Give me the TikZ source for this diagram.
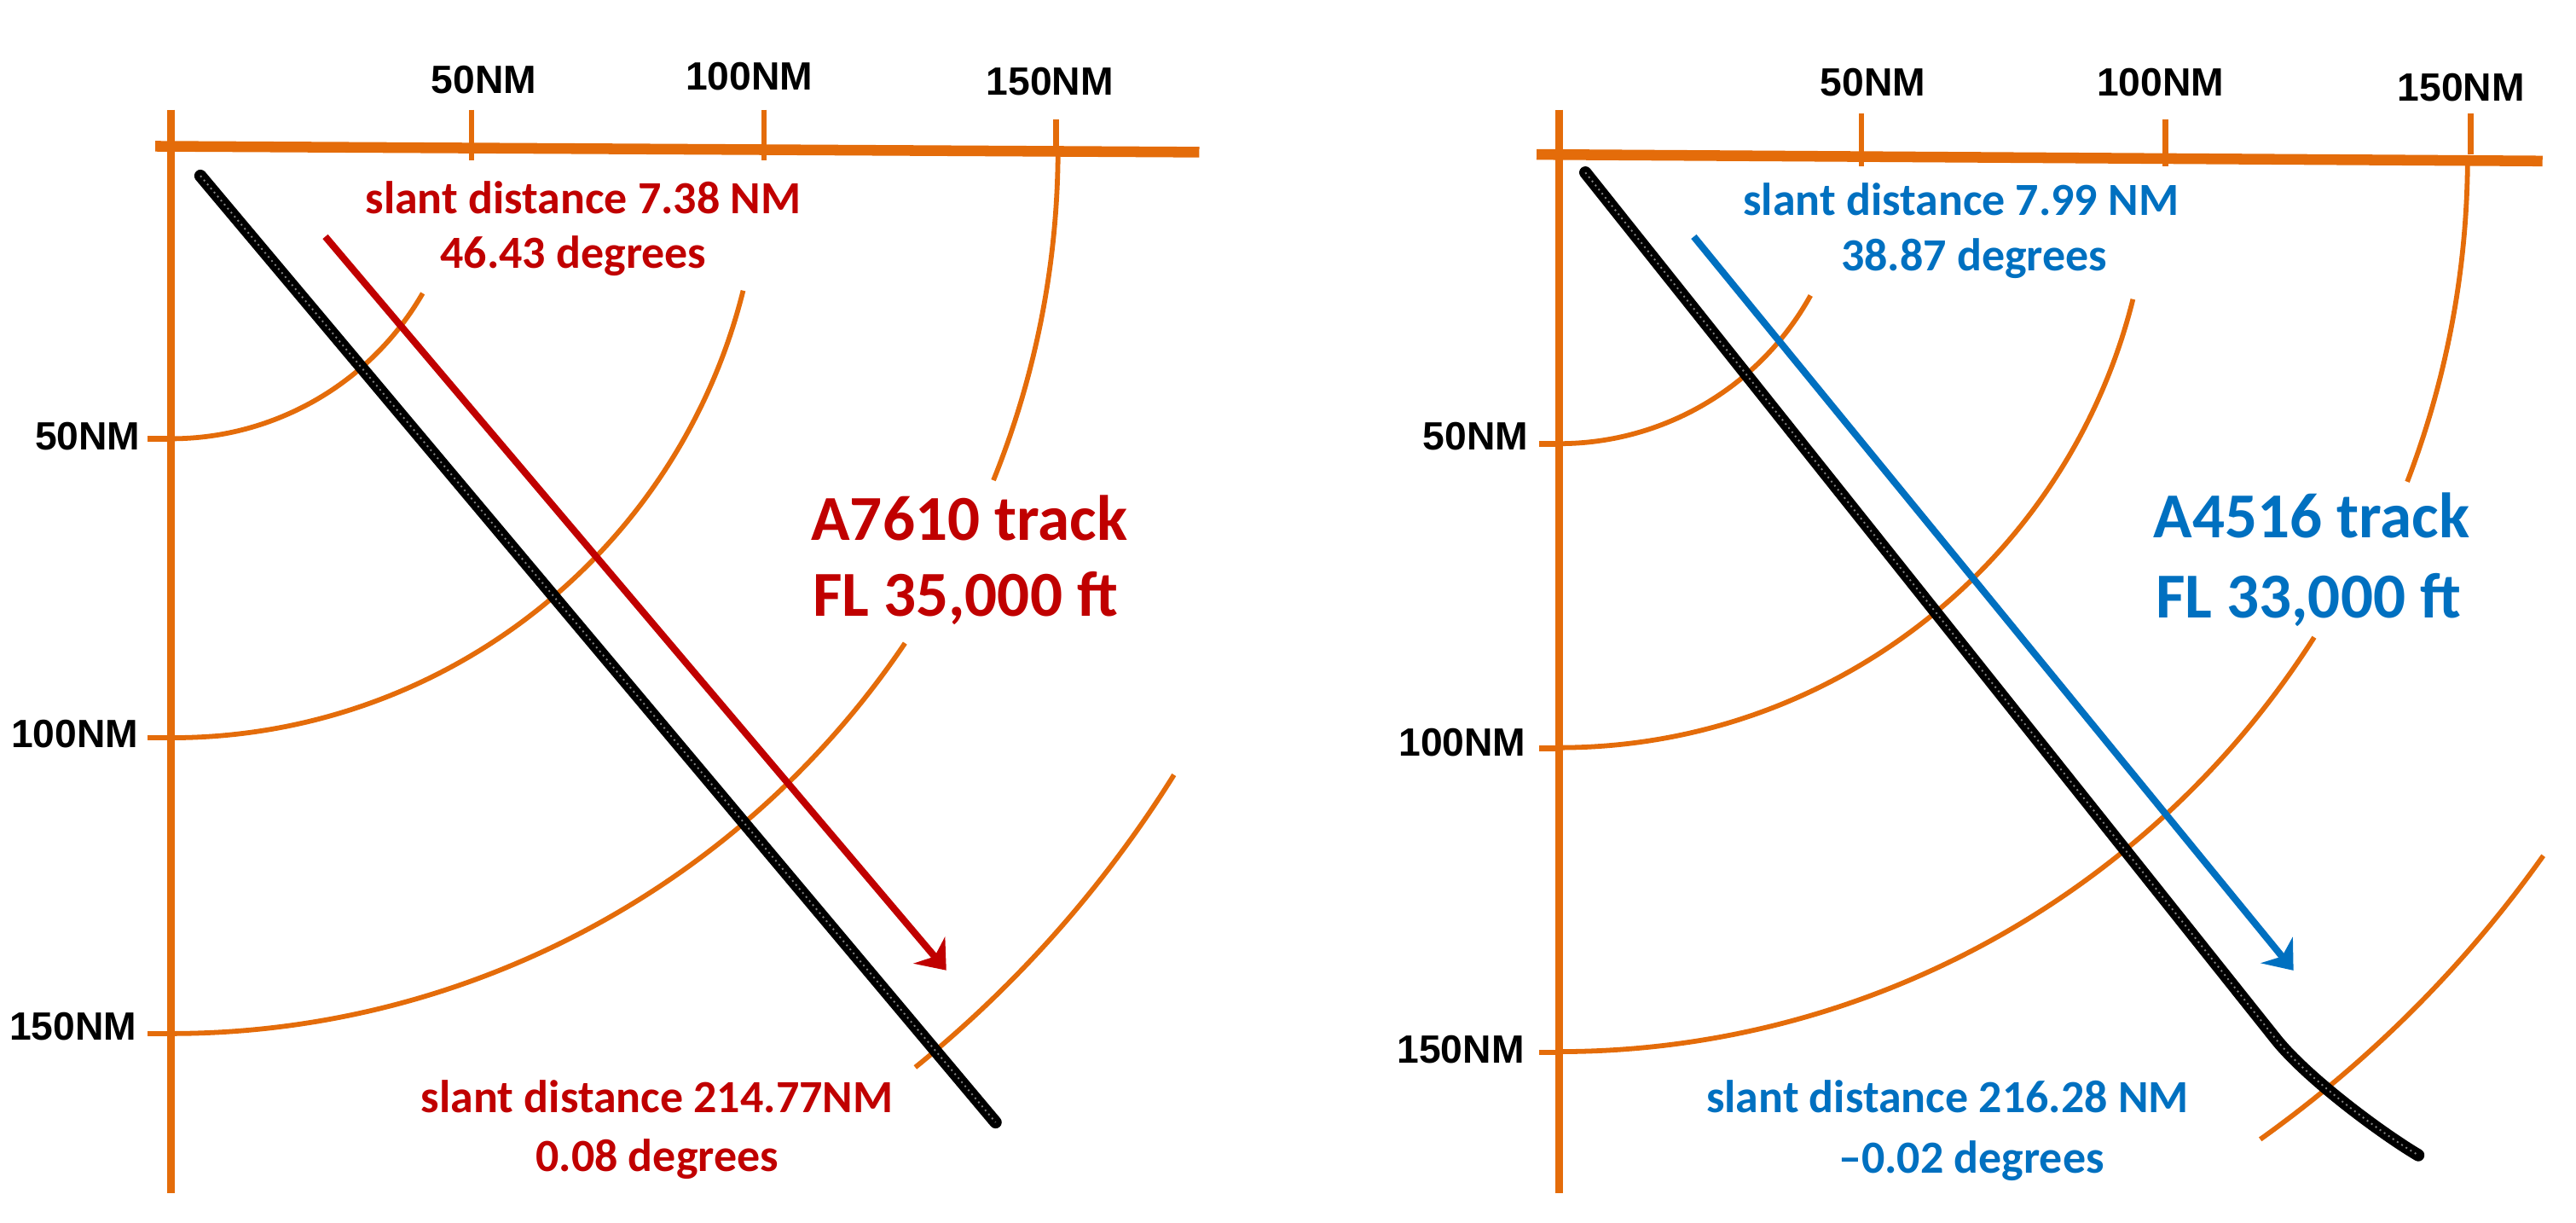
\documentclass[tikz,border=0pt]{standalone}
\usepackage{fontspec}
\setmainfont{Carlito}
\newfontfamily\nmfont{Liberation Sans}
\usepackage{tikz}
\usetikzlibrary{arrows.meta,positioning}

\definecolor{radarorange}{RGB}{228,108,10}
\definecolor{darkred}{RGB}{192,0,0}
\definecolor{officeblue}{RGB}{0,112,192}

\begin{document}
\begin{tikzpicture}[x=1pt,y=-1pt,
	radaraxis/.style={draw=radarorange,line width=6.5pt},
	yaxis/.style={draw=radarorange,line width=5pt},
	radartick/.style={draw=radarorange,line width=3.5pt},
	ring/.style={draw=radarorange,line width=3pt},
	rangelabel/.style={font=\nmfont\bfseries\fontsize{24}{24}\selectfont,inner sep=0pt},
	note/.style={font=\bfseries\fontsize{28}{33}\selectfont,inner sep=0pt,anchor=base},
	bignote/.style={font=\bfseries\fontsize{39}{44}\selectfont,inner sep=0pt,anchor=base},
	flight/.style={draw=black,line width=7.5pt,line cap=round},
	rope/.style={draw=gray,line width=1pt,dash pattern=on 1pt off 2.2pt},
	heading/.style={line width=4.2pt,-{Stealth[length=16pt,width=25pt,inset=5pt]}}]

	\useasboundingbox (0,0) rectangle (1568,744);

	% A7610 panel
	\coordinate (oA) at (104,90);
	\draw[radaraxis] (94.5,89) -- (730,92.6);
	\draw[yaxis] (104,66.7) -- (104,726);
	\draw[radartick] (287,66.7) -- (287,97.7);
	\draw[radartick] (465,66.7) -- (465,97.7);
	\draw[radartick] (643,72.7) -- (643,91);
	\draw[radartick] (90,267) -- (104,267);
	\draw[radartick] (90,449) -- (104,449);
	\draw[radartick] (90,629) -- (104,629);

	\node[rangelabel,anchor=base] (a50top) at (294.5,57) {50NM};
	\node[rangelabel,anchor=base] (a100top) at (456,55) {100NM};
	\node[rangelabel,anchor=base] (a150top) at (639,58) {150NM};
	\node[rangelabel,anchor=base east] (a50side) at (85.6,274) {50NM};
	\node[rangelabel,anchor=base east] (a100side) at (84.4,455) {100NM};
	\node[rangelabel,anchor=base east] (a150side) at (83.4,633) {150NM};

	\draw[ring] (oA) ++(90:177) arc[start angle=90,end angle=30,radius=177];
	\draw[ring] (oA) ++(90:359) arc[start angle=90,end angle=14,radius=359];
	\draw[ring] (oA) ++(90:539) arc[start angle=90,end angle=34,radius=539];
	\draw[ring] (oA) ++(0:540) arc[start angle=0,end angle=22,radius=540];
	\draw[ring] (oA) ++(51:720) arc[start angle=51,end angle=32,radius=720];

	\coordinate (trackA0) at (122,107);
	\coordinate (trackA1) at (606,683);
	\draw[flight] (trackA0) -- (trackA1);
	\draw[rope] (trackA0) -- (trackA1);

	\coordinate (headA0) at (198,144);
	\coordinate (headA1) at (576,590.5);
	\draw[heading,darkred] (headA0) -- (headA1);

	\node[note,text=darkred] (slantA1) at (355,130) {slant distance 7.38 NM};
	\node[note,text=darkred] (angleA1) at (349,163) {46.43 degrees};
	\node[bignote,text=darkred] (callA) at (590,329) {A7610 track};
	\node[bignote,text=darkred] (levelA) at (587.5,375) {FL 35,000 ft};
	\node[note,text=darkred] (slantA2) at (400,677) {slant distance 214.77NM};
	\node[note,text=darkred] (angleA2) at (400,713) {0.08 degrees};

	% A4516 panel
	\coordinate (oB) at (949,95);
	\draw[radaraxis] (935.3,94) -- (1547.6,98);
	\draw[yaxis] (949,66.7) -- (949,726);
	\draw[radartick] (1133,69) -- (1133,101);
	\draw[radartick] (1318,72.7) -- (1318,101);
	\draw[radartick] (1504,69) -- (1504,94);
	\draw[radartick] (937,270) -- (949,270);
	\draw[radartick] (937,455.4) -- (949,455.4);
	\draw[radartick] (937,640.5) -- (949,640.5);

	\node[rangelabel,anchor=base] (b50top) at (1140,58.4) {50NM};
	\node[rangelabel,anchor=base] (b100top) at (1315,58.4) {100NM};
	\node[rangelabel,anchor=base] (b150top) at (1498,61.5) {150NM};
	\node[rangelabel,anchor=base east] (b50side) at (930.3,274) {50NM};
	\node[rangelabel,anchor=base east] (b100side) at (929,460) {100NM};
	\node[rangelabel,anchor=base east] (b150side) at (928,647) {150NM};

	\draw[ring] (oB) ++(90:175) arc[start angle=90,end angle=29,radius=175];
	\draw[ring] (oB) ++(90:360) arc[start angle=90,end angle=14,radius=360];
	\draw[ring] (oB) ++(90:545) arc[start angle=90,end angle=32.5,radius=545];
	\draw[ring] (oB) ++(0:553) arc[start angle=0,end angle=21,radius=553];
	\draw[ring] (oB) ++(54.5:735) arc[start angle=54.5,end angle=35.4,radius=735];

	\coordinate (trackB0) at (965,105);
	\coordinate (trackBbend) at (1385,632);
	\coordinate (trackB1) at (1472,703);
	\draw[flight] (trackB0) -- (trackBbend) .. controls (1404,656) and (1450,690) .. (trackB1);
	\draw[rope] (trackB0) -- (trackBbend) .. controls (1404,656) and (1450,690) .. (trackB1);

	\coordinate (headB0) at (1031,144);
	\coordinate (headB1) at (1396,590.6);
	\draw[heading,officeblue] (headB0) -- (headB1);

	\node[note,text=officeblue] (slantB1) at (1193.6,131) {slant distance 7.99 NM};
	\node[note,text=officeblue] (angleB1) at (1201.7,165) {38.87 degrees};
	\node[bignote,text=officeblue] (callB) at (1407,327) {A4516 track};
	\node[bignote,text=officeblue] (levelB) at (1405,376) {FL 33,000 ft};
	\node[note,text=officeblue] (slantB2) at (1185.4,677) {slant distance 216.28 NM};
	\node[note,text=officeblue] (angleB2) at (1200,714) {–0.02 degrees};
\end{tikzpicture}
\end{document}
